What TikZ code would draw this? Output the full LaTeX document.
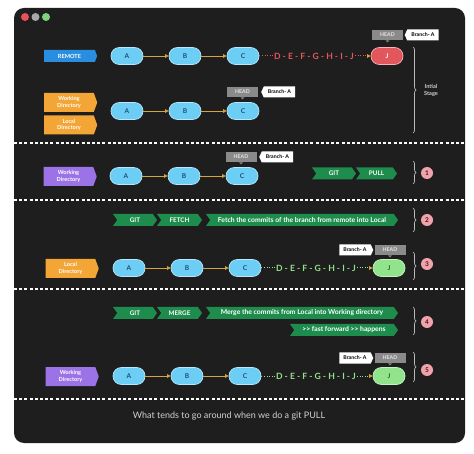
\documentclass[tikz,border=0pt]{standalone}
\usepackage{fontspec}
\setmainfont{Lato}
\usetikzlibrary{shapes.symbols,arrows.meta,decorations.pathreplacing}
\definecolor{panel}{HTML}{1E1E1E}
\definecolor{cfill}{HTML}{6CCDF5}
\definecolor{cborder}{HTML}{B9E8FC}
\definecolor{ctext}{HTML}{1D4F73}
\definecolor{jred}{HTML}{E2575C}
\definecolor{jredb}{HTML}{F4B5B8}
\definecolor{jgreen}{HTML}{92E48C}
\definecolor{jgreenb}{HTML}{C6F3C2}
\definecolor{jgtext}{HTML}{2E5A2E}
\definecolor{remblue}{HTML}{2A8EE0}
\definecolor{orng}{HTML}{F3A536}
\definecolor{purp}{HTML}{9B73E6}
\definecolor{gitgreen}{HTML}{1E8C4C}
\definecolor{headgray}{HTML}{8A8A8A}
\definecolor{headtext}{HTML}{E6E6E6}
\definecolor{gold}{HTML}{D8A43C}
\definecolor{pinkc}{HTML}{F2A2AA}
\definecolor{pinktext}{HTML}{3A1A1E}
\definecolor{bracec}{HTML}{BBBBBB}
\definecolor{captc}{HTML}{D2D2D2}
\definecolor{tlred}{HTML}{E8505A}
\definecolor{tlgray}{HTML}{A8A8A8}
\definecolor{tlgreen}{HTML}{7FD27A}
\begin{document}
\begin{tikzpicture}[x=1pt,y=-1pt,
  commit/.style={draw=cborder, line width=0.7pt, fill=cfill, rounded corners=8.3pt,
    minimum width=32pt, minimum height=17pt, inner sep=0pt,
    font=\bfseries\fontsize{6.6}{7}\selectfont, text=ctext},
  jred/.style={commit, fill=jred, draw=jredb, text=white},
  jgreen/.style={commit, fill=jgreen, draw=jgreenb, text=jgtext},
  lbl/.style={signal, signal to=east, signal pointer angle=140, fill=#1, draw=none,
    text=white, font=\bfseries\fontsize{5.6}{6.6}\selectfont, align=center,
    minimum width=53pt, inner sep=0pt},
  chev/.style={signal, signal to=east, signal from=west, signal pointer angle=110,
    fill=gitgreen, text=white, font=\bfseries\fontsize{6.3}{7}\selectfont,
    minimum height=12pt, inner sep=0pt},
  longchev/.style={chev, font=\bfseries\fontsize{6.8}{7}\selectfont},
  headbox/.style={fill=headgray, text=headtext, font=\bfseries\fontsize{5.2}{6}\selectfont,
    minimum width=31pt, minimum height=10.5pt, inner sep=0pt},
  branchbox/.style={signal, signal to=#1, signal pointer angle=130, fill=white, text=black,
    font=\bfseries\fontsize{5.2}{6}\selectfont, minimum width=34pt, minimum height=11pt, inner sep=0pt},
  carrow/.style={draw=gold, line width=0.8pt, -{Triangle[length=3.5pt,width=3.6pt]}},
  dotl/.style={draw=#1, line width=1pt, dash pattern=on 1pt off 1.6pt},
  dotarr/.style={dotl=#1, -{Triangle[length=3.5pt,width=3.6pt,color=gold,fill=gold]}},
  letters/.style={text=#1, font=\bfseries\fontsize{8.6}{9}\selectfont, inner sep=1pt},
  sep/.style={draw=white, line width=1.1pt, dash pattern=on 3pt off 2.2pt},
  brace/.style={draw=bracec, line width=0.7pt, decorate, decoration={brace, amplitude=3pt}},
  numc/.style={circle, fill=pinkc, minimum size=12pt, inner sep=0pt, text=pinktext,
    font=\bfseries\fontsize{6.5}{7}\selectfont},
  ]
\useasboundingbox (0,0) rectangle (474,454);
\fill[white] (0,0) rectangle (474,454);
\fill[panel, rounded corners=10pt] (14,8) rectangle (465,443);
\fill[tlred] (25,17) circle (4);
\fill[tlgray] (35.5,17) circle (4);
\fill[tlgreen] (46,17) circle (4);

% separators
\draw[sep] (14,143) -- (465,143);
\draw[sep] (14,200) -- (465,200);
\draw[sep] (14,289) -- (465,289);
\draw[sep] (14,399) -- (465,399);

% ---------- Row 1: remote
\node[lbl=remblue, minimum height=12pt] (rem) at (69.5,56) {REMOTE};
\node[commit] (r1a) at (127,56) {A};
\node[commit] (r1b) at (185,56) {B};
\node[commit] (r1c) at (243,56) {C};
\node[jred] (r1j) at (387,56) {J};
\node[letters=jred] (r1t) at (314,56) {D - E - F - G - H - I - J};
\draw[carrow] (r1a) -- (r1b);
\draw[carrow] (r1b) -- (r1c);
\draw[dotl=jred] (r1c) -- (r1t);
\draw[dotarr=jred] (r1t) -- (r1j);
\node[headbox] (h1) at (387.5,35) {HEAD};
\fill[headgray] (h1.south) ++(-2,0) -- ++(2,2) -- ++(2,-2) -- cycle;
\node[branchbox=west] (b1) at (423,35) {Branch- A};

% ---------- Row 2: working/local
\node[lbl=orng, minimum height=19pt] (wd1) at (69,102.5) {Working\\Directory};
\node[lbl=orng, minimum height=19pt] (ld1) at (69,125) {Local\\Directory};
\node[commit] (r2a) at (127,111) {A};
\node[commit] (r2b) at (185,111) {B};
\node[commit] (r2c) at (243,111) {C};
\draw[carrow] (r2a) -- (r2b);
\draw[carrow] (r2b) -- (r2c);
\node[headbox] (h2) at (242.5,92) {HEAD};
\fill[headgray] (h2.south) ++(-2,0) -- ++(2,2) -- ++(2,-2) -- cycle;
\node[branchbox=west] (b2) at (279.5,92) {Branch- A};

\draw[brace] (413,47) -- (413,133);
\node[text=captc, font=\bfseries\fontsize{5.6}{7}\selectfont, align=center] (stage) at (431,90) {Intial\\Stage};

% ---------- Section 1
\node[lbl=purp, minimum height=19pt] (wd2) at (68.5,176.5) {Working\\Directory};
\node[commit] (r3a) at (126,176) {A};
\node[commit] (r3b) at (184,176) {B};
\node[commit] (r3c) at (242,176) {C};
\draw[carrow] (r3a) -- (r3b);
\draw[carrow] (r3b) -- (r3c);
\node[headbox] (h3) at (241,157) {HEAD};
\fill[headgray] (h3.south) ++(-2,0) -- ++(2,2) -- ++(2,-2) -- cycle;
\node[branchbox=west] (b3) at (277.5,157) {Branch- A};
\node[chev, minimum width=44pt] (g1) at (334,173.5) {GIT};
\node[chev, minimum width=41pt] (p1) at (376.5,173.5) {PULL};
\draw[brace] (413,161) -- (413,184);
\node[numc] (n1) at (427,173) {1};

% ---------- Section 2
\node[chev, minimum width=44pt] (g2) at (135,220) {GIT};
\node[chev, minimum width=45pt] (f2) at (179.5,220) {FETCH};
\node[longchev, minimum width=192pt] (t2) at (302,220) {Fetch the commits of the branch from remote into Local};
\draw[brace] (413,208) -- (413,232);
\node[numc] (n2) at (427,220) {2};

\node[lbl=orng, minimum height=19pt] (ld2) at (70.5,268.5) {Local\\Directory};
\node[commit] (r4a) at (129,268) {A};
\node[commit] (r4b) at (187,268) {B};
\node[commit] (r4c) at (245,268) {C};
\node[jgreen] (r4j) at (389,268) {J};
\node[letters=jgreen] (r4t) at (316,268) {D - E - F - G - H - I - J};
\draw[carrow] (r4a) -- (r4b);
\draw[carrow] (r4b) -- (r4c);
\draw[dotl=jgreen] (r4c) -- (r4t);
\draw[dotarr=jgreen] (r4t) -- (r4j);
\node[branchbox=east] (b4) at (355,250) {Branch- A};
\node[headbox] (h4) at (390,250) {HEAD};
\fill[headgray] (h4.south) ++(-2,0) -- ++(2,2) -- ++(2,-2) -- cycle;
\draw[brace] (413,252) -- (413,280);
\node[numc] (n3) at (427,264) {3};

% ---------- Section 4
\node[chev, minimum width=44pt] (g4) at (135,313) {GIT};
\node[chev, minimum width=45pt] (m4) at (179.5,313) {MERGE};
\node[longchev, minimum width=192pt] (t4) at (302,313) {Merge the commits from Local into Working directory};
\node[longchev, minimum width=108pt] (ff) at (344,330) {>\kern0pt> fast forward >\kern0pt> happens};
\draw[brace] (413,307) -- (413,335);
\node[numc] (n4) at (427,322) {4};

\node[lbl=purp, minimum height=19pt] (wd3) at (70.5,376.5) {Working\\Directory};
\node[commit] (r5a) at (129,376) {A};
\node[commit] (r5b) at (187,376) {B};
\node[commit] (r5c) at (245,376) {C};
\node[jgreen] (r5j) at (389,376) {J};
\node[letters=jgreen] (r5t) at (316,376) {D - E - F - G - H - I - J};
\draw[carrow] (r5a) -- (r5b);
\draw[carrow] (r5b) -- (r5c);
\draw[dotl=jgreen] (r5c) -- (r5t);
\draw[dotarr=jgreen] (r5t) -- (r5j);
\node[branchbox=east] (b5) at (355,358) {Branch- A};
\node[headbox] (h5) at (390,358) {HEAD};
\fill[headgray] (h5.south) ++(-2,0) -- ++(2,2) -- ++(2,-2) -- cycle;
\draw[brace] (413,352) -- (413,382);
\node[numc] (n5) at (427,370) {5};

\node[text=captc, font=\fontsize{9}{10}\selectfont] (cap) at (229,416) {What tends to go around when we do a git PULL};
\end{tikzpicture}
\end{document}
